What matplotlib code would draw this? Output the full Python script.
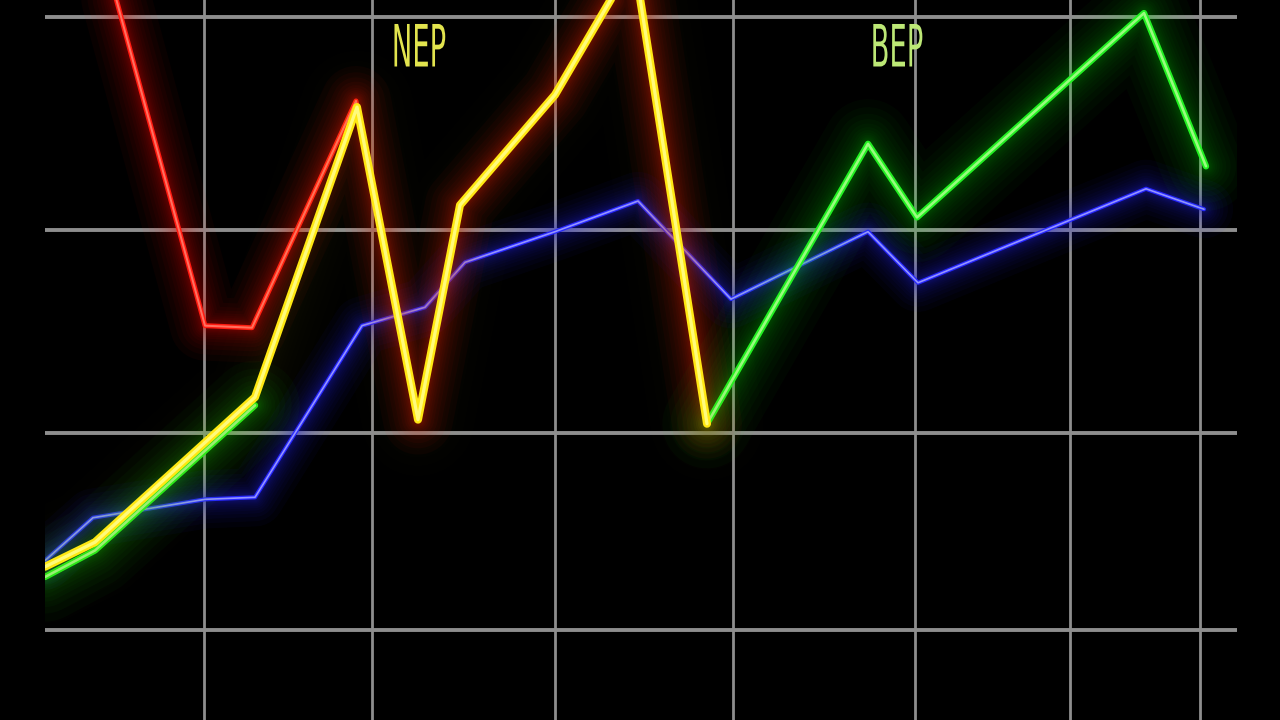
import numpy as np
import matplotlib
matplotlib.use("Agg")
import matplotlib.pyplot as plt
from matplotlib import patheffects
from matplotlib.transforms import Affine2D

# ---- data (arbitrary units) ----
x_blue = [45, 93, 205, 255, 362, 425, 465, 555, 638, 731, 868, 918, 1146, 1204]
blue = [0.34, 0.55, 0.64, 0.65, 1.49, 1.58, 1.80, 1.95, 2.10, 1.62, 1.95, 1.70, 2.16, 2.06]

x_red = [95, 205, 252, 356, 418, 460, 555, 634, 707]
red = [3.47, 1.49, 1.48, 2.59, 1.03, 2.08, 2.62, 3.28, 1.01]

x_yellow = [45, 95, 255, 357, 418, 460, 555, 634, 707]
yellow = [0.31, 0.43, 1.14, 2.56, 1.03, 2.08, 2.62, 3.28, 1.01]

x_green = [45, 95, 255, 480, 707, 868, 917, 1144, 1206]
green = [0.26, 0.39, 1.10, np.nan, 1.01, 2.38, 2.02, 3.02, 2.27]

x_grid = [204, 372, 555, 733, 915, 1070, 1200]
y_grid = [0.0, 0.965, 1.96, 3.0]

labels = ["NEP", "BEP"]
label_x = [419, 897]

# ---- figure ----
fig = plt.figure(figsize=(12.8, 7.2), dpi=100, facecolor="black")
ax = fig.add_axes([45 / 1280, 0, (1237 - 45) / 1280, 1])
ax.set_facecolor("black")
ax.set_xlim(45, 1237)
ax.set_ylim(-0.44, 3.084)
for s in ax.spines.values():
    s.set_visible(False)
ax.set_xticks([])
ax.set_yticks([])

for gx in x_grid:
    ax.axvline(gx, color="#8e8e8e", lw=2.0, zorder=1)
for gy in y_grid:
    ax.axhline(gy, color="#8e8e8e", lw=2.8, zorder=1)


def neon(x, y, color, core, width, z, glow):
    mults = np.geomspace(1.6, 14, 12)[::-1]
    for m in mults:
        ax.plot(x, y, color=color, lw=width * m, alpha=0.035 * glow,
                solid_capstyle="round", solid_joinstyle="round", zorder=z)
    ax.plot(x, y, color=color, lw=width, solid_capstyle="round",
            solid_joinstyle="round", zorder=z + 0.1)
    ax.plot(x, y, color=core, lw=width * 0.4, alpha=0.85, solid_capstyle="round",
            solid_joinstyle="round", zorder=z + 0.2)


neon(x_blue, blue, "#2626ff", "#a8a8ff", 3.0, 2, 1.1)
neon(x_red, red, "#ff1a10", "#ff8070", 3.6, 3, 1.1)
neon(x_green, green, "#22f022", "#b0ff90", 4.6, 4, 0.8)
neon(x_yellow, yellow, "#ffe812", "#ffff90", 5.8, 5, 0.25)


class HStretch(patheffects.AbstractPathEffect):
    def __init__(self, text, sx):
        super().__init__()
        self.text = text
        self.sx = sx

    def draw_path(self, renderer, gc, tpath, affine, rgbFace=None):
        cx, cy = self.text.get_transform().transform(self.text.get_position())
        aff = affine + Affine2D().translate(-cx, -cy).scale(self.sx, 1).translate(cx, cy)
        renderer.draw_path(gc, tpath, aff, rgbFace)


colors = ["#e2e44e", "#bde876"]
for lab, lx, c in zip(labels, label_x, colors):
    t = fig.text(lx / 1280, 1 - 50 / 720, lab, ha="center", va="center",
                 fontsize=42, color=c, family="DejaVu Sans", zorder=10)
    t.set_path_effects([HStretch(t, 0.47)])

fig.savefig("out.png", dpi=100, facecolor="black")
